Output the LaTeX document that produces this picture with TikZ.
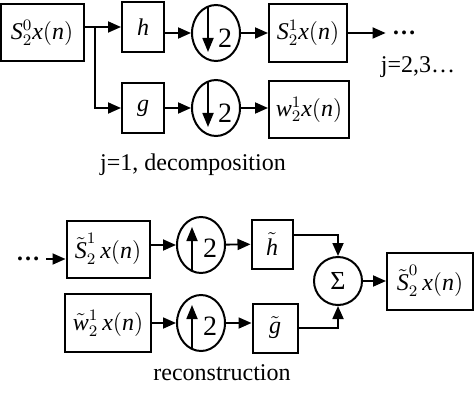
\documentclass[tikz,border=0pt]{standalone}
\usepackage{amsmath}
\usepackage{fontspec}
\setmainfont{Liberation Serif}
\usepackage{tikz}
\usetikzlibrary{arrows.meta, positioning, shapes.geometric, calc}

\begin{document}
\begin{tikzpicture}[
      x=0.5pt, y=-0.5pt,
      every node/.style={font=\fontsize{12}{14}\selectfont},
      blk/.style={draw, line width=1pt, inner sep=0pt},
      smp/.style={draw, ellipse, line width=1pt, minimum width=24pt, minimum height=28pt, inner sep=0pt},
      sum/.style={draw, circle, line width=1pt, minimum size=24pt, inner sep=0pt, font=\fontsize{13}{15}\selectfont},
      two/.style={font=\fontsize{14}{16}\selectfont},
      more/.style={inner xsep=3pt, inner ysep=0pt, font=\fontsize{12}{14}\bfseries},
      arr/.style={-{Triangle[length=6.5pt,width=5.5pt]}, line width=0.9pt},
      bigarr/.style={-{Triangle[length=7pt,width=5.5pt]}, line width=0.9pt}
    ]
  \useasboundingbox (0,0) rectangle (474,411);
  % decomposition, j=1
  \node[blk, minimum width=41.5pt, minimum height=28.5pt] (s0) at (42,33) {$\textit{S\/}^{0}_{2}\textit{x}(\textit{n})$};
  \node[blk, minimum width=21pt, minimum height=25pt] (h) at (143,27) {\textit{h}};
  \node[blk, minimum width=21pt, minimum height=24.5pt] (g) at (143,108) {\textit{g}};
  \node[smp] (d1) at (216,33) {};
  \node[smp] (d2) at (216,108) {};
  \node[blk, minimum width=39pt, minimum height=29pt] (s1) at (308,33) {$\textit{S\/}^{1}_{2}\textit{x}(\textit{n})$};
  \node[blk, minimum width=40pt, minimum height=28.5pt] (w1) at (309,109.5) {$\textit{w\/}^{1}_{2}\textit{x}(\textit{n})$};
  \node[more] (more1) at (404,33) {\dots};
  \node (jnext) at (418,67) {j=2,3\dots};
  \node (dec) at (193,165) {j=1, decomposition};
  \coordinate (br) at (95,27);

  \draw[bigarr] ([xshift=-4pt, yshift=13.5pt]d1.center) -- ([xshift=-4pt, yshift=-9.5pt]d1.center);
  \draw[bigarr] ([xshift=-4pt, yshift=13.5pt]d2.center) -- ([xshift=-4pt, yshift=-9.5pt]d2.center);
  \node[two] (d1two) at ([xshift=4.5pt, yshift=-2.5pt]d1.center) {2};
  \node[two] (d2two) at ([xshift=4.5pt, yshift=-2.5pt]d2.center) {2};

  \draw[arr] (s0.east |- h.west) -- (h.west);
  \draw[arr] (br) |- (g.west);
  \draw[arr] (h.east |- d1.west) -- (d1.west);
  \draw[arr] (g) -- (d2);
  \draw[arr] (d1) -- (s1);
  \draw[arr] (d2.east) -- (d2.east -| w1.west);
  \draw[arr] (s1) -- (more1.west);

  % reconstruction
  \node[more] (more2) at (28,259) {\dots};
  \node[blk, minimum width=41.5pt, minimum height=28.5pt] (t1) at (108,249) {$\tilde{\textit{S\/}}^{1}_{2}\,\textit{x}(\textit{n})$};
  \node[blk, minimum width=43pt, minimum height=29pt] (tw) at (108,323) {$\tilde{\textit{w\/}}^{1}_{2}\,\textit{x}(\textit{n})$};
  \node[smp] (u1) at (201,245) {};
  \node[smp] (u2) at (201,323) {};
  \node[blk, minimum width=20.5pt, minimum height=24.5pt] (th) at (272,244) {$\tilde{\textit{h}}$};
  \node[blk, minimum width=22.5pt, minimum height=24.5pt] (tg) at (275,328) {$\tilde{\textit{g}}$};
  \node[sum] (sig) at (338,281) {Σ};
  \node[blk, minimum width=43pt, minimum height=28.5pt] (t0) at (430,281) {$\tilde{\textit{S\/}}^{0}_{2}\,\textit{x}(\textit{n})$};
  \node (rec) at (222,373) {reconstruction};

  \draw[bigarr] ([xshift=-4.5pt, yshift=-12.5pt]u1.center) -- ([xshift=-4.5pt, yshift=9pt]u1.center);
  \draw[bigarr] ([xshift=-4.5pt, yshift=-12.5pt]u2.center) -- ([xshift=-4.5pt, yshift=9pt]u2.center);
  \node[two] (u1two) at ([xshift=4.5pt, yshift=-1.5pt]u1.center) {2};
  \node[two] (u2two) at ([xshift=4.5pt, yshift=-1.5pt]u2.center) {2};

  \draw[arr] (more2.east) -- (more2.east -| t1.west);
  \draw[arr] (t1.east |- u1.west) -- (u1.west);
  \draw[arr] (u1) -- (th);
  \draw[arr] (tw) -- (u2);
  \draw[arr] (u2.east) -- (u2.east -| tg.west);
  \draw[arr] ([yshift=4.5pt]th.east) -| (sig.north);
  \draw[arr] (tg.east) -| (sig.south);
  \draw[arr] (sig) -- (t0);
\end{tikzpicture}
\end{document}
